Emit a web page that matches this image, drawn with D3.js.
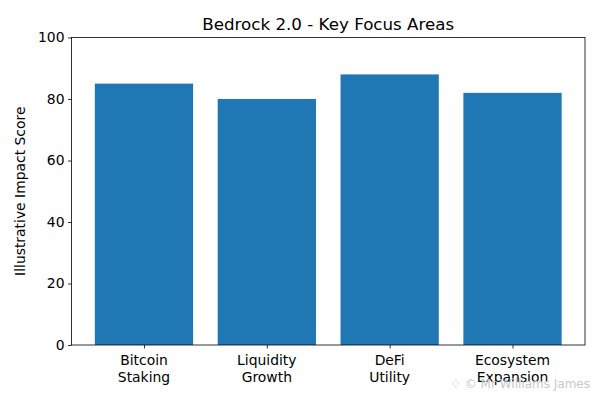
<!DOCTYPE html>
<html>
<head>
<meta charset="utf-8">
<script src="https://cdn.jsdelivr.net/npm/d3@7"></script>
<style>
  body { margin: 0; background: #fff; }
  text { font-family: "DejaVu Sans", sans-serif; }
</style>
</head>
<body>
<div id="chart"></div>
<script>
// data
var categories = [["Bitcoin", "Staking"], ["Liquidity", "Growth"], ["DeFi", "Utility"], ["Ecosystem", "Expansion"]];
var scores = [85, 80, 88, 82];
var yTicks = [0, 20, 40, 60, 80, 100];

// chart set up
var svgWidth = 600, svgHeight = 400;
var margin = { top: 37.5, right: 15, bottom: 55, left: 71.5 };
var width = svgWidth - margin.left - margin.right;
var height = svgHeight - margin.top - margin.bottom;

var svg = d3.select("#chart").append("svg")
    .attr("width", svgWidth)
    .attr("height", svgHeight);

var chartGroup = svg.append("g")
    .attr("transform", `translate(${margin.left},${margin.top})`);

// matplotlib-like x limits: bars of width 0.8 with 5% margins
var xScale = d3.scaleLinear()
    .domain([-0.59, categories.length - 1 + 0.59])
    .range([0, width]);

var yScale = d3.scaleLinear()
    .domain([0, 100])
    .range([height, 0]);

// bars
chartGroup.selectAll("rect.bar")
    .data(scores)
    .enter()
    .append("rect")
    .attr("class", "bar")
    .attr("x", (d, i) => xScale(i - 0.4))
    .attr("width", xScale(0.8) - xScale(0))
    .attr("y", d => yScale(d))
    .attr("height", d => height - yScale(d))
    .attr("fill", "#1f77b4");

// axes
var leftAxis = d3.axisLeft(yScale).tickValues(yTicks).tickSize(3.5).tickPadding(3.5);
var bottomAxis = d3.axisBottom(xScale).tickValues(d3.range(categories.length)).tickSize(3.5).tickFormat("");

var yAxis = chartGroup.append("g").call(leftAxis);
yAxis.selectAll("text").attr("font-size", 13.9).attr("fill", "#000").style("font-family", "DejaVu Sans");
yAxis.selectAll("line").attr("stroke", "#000").attr("stroke-width", 0.8);
yAxis.select(".domain").remove();

var xAxis = chartGroup.append("g").attr("transform", `translate(0,${height})`).call(bottomAxis);
xAxis.selectAll("line").attr("stroke", "#000").attr("stroke-width", 0.8);
xAxis.select(".domain").remove();

// category labels (two lines)
categories.forEach(function (lines, i) {
    var t = chartGroup.append("text")
        .attr("x", xScale(i))
        .attr("y", height + 20)
        .attr("text-anchor", "middle")
        .attr("font-size", 13.9)
        .attr("fill", "#000");
    lines.forEach(function (l, j) {
        t.append("tspan").attr("x", xScale(i)).attr("dy", j === 0 ? 0 : 16.5).text(l);
    });
});

// frame
chartGroup.append("rect")
    .attr("width", width)
    .attr("height", height)
    .attr("fill", "none")
    .attr("stroke", "#000")
    .attr("stroke-width", 0.8);

// title
svg.append("text")
    .attr("x", margin.left + width / 2)
    .attr("y", margin.top - 8)
    .attr("text-anchor", "middle")
    .attr("font-size", 16.7)
    .text("Bedrock 2.0 - Key Focus Areas");

// y label
svg.append("text")
    .attr("transform", `translate(25, ${margin.top + height / 2}) rotate(-90)`)
    .attr("text-anchor", "middle")
    .attr("font-size", 13.9)
    .text("Illustrative Impact Score");

// watermark
svg.append("text")
    .attr("x", 590)
    .attr("y", 388)
    .attr("text-anchor", "end")
    .attr("font-size", 12)
    .attr("fill", "#c8c8c8")
    .text("\u2662 \u00a9 Mr Williams James");
</script>
</body>
</html>
